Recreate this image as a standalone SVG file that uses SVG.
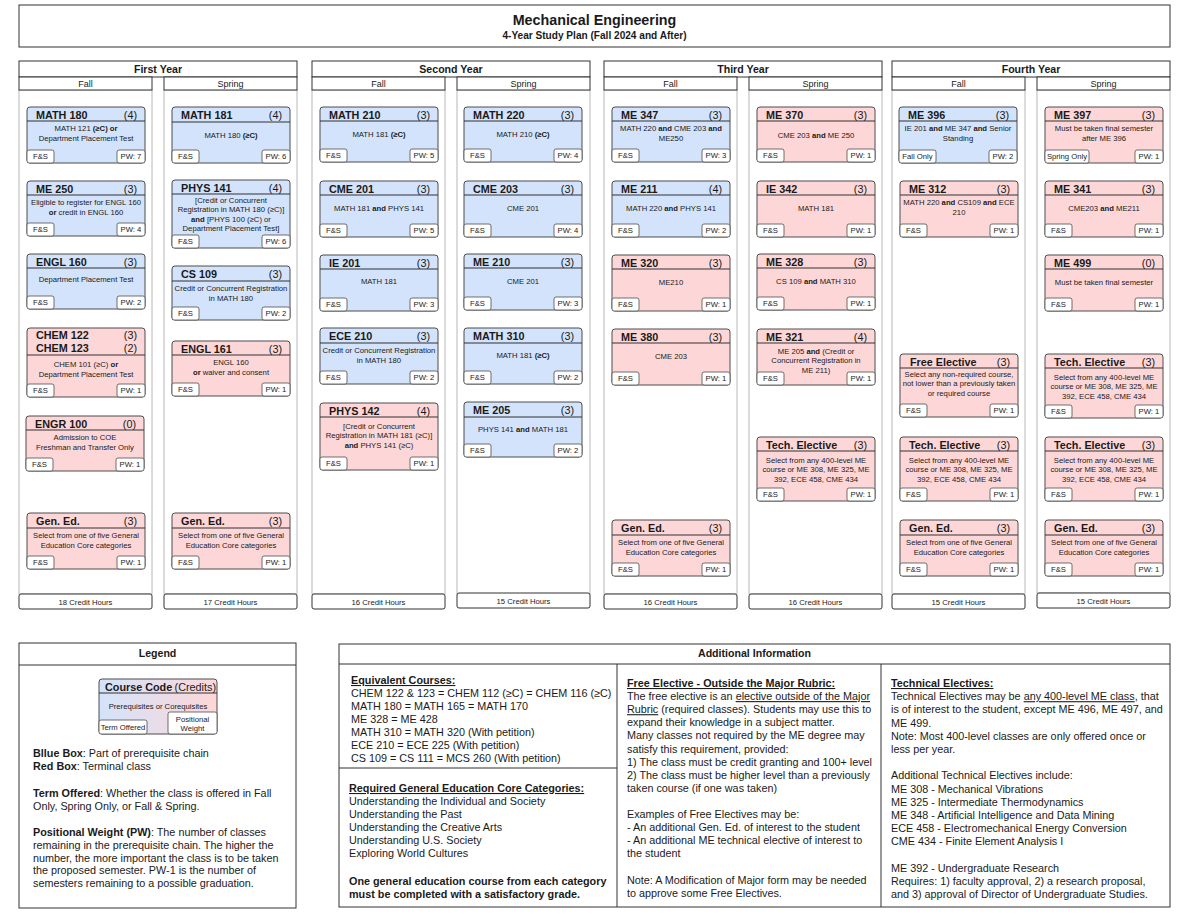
<svg xmlns="http://www.w3.org/2000/svg" width="1200" height="922" viewBox="0 0 1200 922">
<defs>
<style>
text{font-family:"Liberation Sans",Arial,sans-serif;fill:#1a1a1a}
.ct{font-size:10.8px;font-weight:bold}
.cc{font-size:10.8px;text-anchor:end}
.b{font-size:7.7px;text-anchor:middle}
.f{font-size:7.7px;text-anchor:middle}
.bd{font-weight:bold}
.card{stroke:#4d4d4d;stroke-width:1}
.blue{fill:#d3e3fb}
.red{fill:#fdd7d7}
.grad{fill:url(#lgGrad)}
.hl{stroke:#333;stroke-width:1.2}
.fb{fill:#fff;stroke:#4d4d4d;stroke-width:0.8}
.yh{fill:#fff;stroke:#333;stroke-width:1}
.col{fill:none;stroke:#b8b8b8;stroke-width:1}
.yt{font-size:10.6px;font-weight:bold;text-anchor:middle}
.st{font-size:9px;text-anchor:middle}
.ch{font-size:7.7px;text-anchor:middle}
.lg{font-size:10.8px}
.u{text-decoration:underline}
</style>
<linearGradient id="lgGrad" x1="0" y1="0" x2="1" y2="0">
<stop offset="0" stop-color="#d3e3fb"/>
<stop offset="1" stop-color="#fdd7d7"/>
</linearGradient>
</defs>
<rect width="1200" height="922" fill="#fff"/>

<g id="title">
<rect class="yh" x="19" y="5" width="1151" height="42"/>
<text x="594.5" y="25" style="font-size:14.3px;font-weight:bold;text-anchor:middle">Mechanical Engineering</text>
<text x="594.5" y="38.5" style="font-size:10.1px;font-weight:bold;text-anchor:middle">4-Year Study Plan (Fall 2024 and After)</text>
</g>

<!-- Year frames -->
<g id="year1">
<rect class="col" x="19" y="90" width="133" height="504"/>
<rect class="col" x="164" y="90" width="133" height="504"/>
<rect class="yh" x="19" y="61" width="278" height="16"/>
<text class="yt" x="158" y="73">First Year</text>
<rect class="yh" x="19" y="77" width="133" height="13"/>
<text class="st" x="85.5" y="87">Fall</text>
<rect class="yh" x="164" y="77" width="133" height="13"/>
<text class="st" x="230.5" y="87">Spring</text>
<rect class="yh" x="19" y="594" width="133" height="15" rx="2"/>
<text class="ch" x="85.5" y="604.5">18 Credit Hours</text>
<rect class="yh" x="164" y="594" width="133" height="15" rx="2"/>
<text class="ch" x="230.5" y="604.5">17 Credit Hours</text>
</g>
<g id="year2">
<rect class="col" x="312" y="90" width="133" height="504"/>
<rect class="col" x="457" y="90" width="133" height="504"/>
<rect class="yh" x="312" y="61" width="278" height="16"/>
<text class="yt" x="451" y="73">Second Year</text>
<rect class="yh" x="312" y="77" width="133" height="13"/>
<text class="st" x="378.5" y="87">Fall</text>
<rect class="yh" x="457" y="77" width="133" height="13"/>
<text class="st" x="523.5" y="87">Spring</text>
<rect class="yh" x="312" y="594" width="133" height="15" rx="2"/>
<text class="ch" x="378.5" y="604.5">16 Credit Hours</text>
<rect class="yh" x="457" y="593" width="133" height="15" rx="2"/>
<text class="ch" x="523.5" y="603.5">15 Credit Hours</text>
</g>
<g id="year3">
<rect class="col" x="604" y="90" width="133" height="504"/>
<rect class="col" x="749" y="90" width="133" height="504"/>
<rect class="yh" x="604" y="61" width="278" height="16"/>
<text class="yt" x="743" y="73">Third Year</text>
<rect class="yh" x="604" y="77" width="133" height="13"/>
<text class="st" x="670.5" y="87">Fall</text>
<rect class="yh" x="749" y="77" width="133" height="13"/>
<text class="st" x="815.5" y="87">Spring</text>
<rect class="yh" x="604" y="594" width="133" height="15" rx="2"/>
<text class="ch" x="670.5" y="604.5">16 Credit Hours</text>
<rect class="yh" x="749" y="594" width="133" height="15" rx="2"/>
<text class="ch" x="815.5" y="604.5">16 Credit Hours</text>
</g>
<g id="year4">
<rect class="col" x="892" y="90" width="133" height="504"/>
<rect class="col" x="1037" y="90" width="133" height="503"/>
<rect class="yh" x="892" y="61" width="278" height="16"/>
<text class="yt" x="1031" y="73">Fourth Year</text>
<rect class="yh" x="892" y="77" width="133" height="13"/>
<text class="st" x="958.5" y="87">Fall</text>
<rect class="yh" x="1037" y="77" width="133" height="13"/>
<text class="st" x="1103.5" y="87">Spring</text>
<rect class="yh" x="892" y="594" width="133" height="15" rx="2"/>
<text class="ch" x="958.5" y="604.5">15 Credit Hours</text>
<rect class="yh" x="1037" y="593" width="133" height="15" rx="2"/>
<text class="ch" x="1103.5" y="603.5">15 Credit Hours</text>
</g>

<g id="connectors"></g>

<!-- ===== First Year Fall ===== -->
<g id="math180" transform="translate(27,107)">
<rect class="card blue" width="118" height="56" rx="3"/>
<line class="hl" x1="0" y1="14" x2="118" y2="14"/>
<text class="ct" x="9" y="11.5">MATH 180</text><text class="cc" x="110" y="11.5">(4)</text>
<text class="b" x="59" y="24">MATH 121 <tspan class="bd">(≥C) or</tspan></text>
<text class="b" x="59" y="34">Department Placement Test</text>
<rect class="fb" x="0" y="43" width="27" height="13" rx="2"/><text class="f" x="13.5" y="52">F&amp;S</text>
<rect class="fb" x="90" y="43" width="28" height="13" rx="2"/><text class="f" x="104" y="52">PW: 7</text>
</g>
<g id="me250" transform="translate(27,181)">
<rect class="card blue" width="118" height="55" rx="3"/>
<line class="hl" x1="0" y1="14" x2="118" y2="14"/>
<text class="ct" x="9" y="11.5">ME 250</text><text class="cc" x="110" y="11.5">(3)</text>
<text class="b" x="59" y="24">Eligible to register for ENGL 160</text>
<text class="b" x="59" y="33.5"><tspan class="bd">or</tspan> credit in ENGL 160</text>
<rect class="fb" x="0" y="42" width="27" height="13" rx="2"/><text class="f" x="13.5" y="51">F&amp;S</text>
<rect class="fb" x="90" y="42" width="28" height="13" rx="2"/><text class="f" x="104" y="51">PW: 4</text>
</g>
<g id="engl160" transform="translate(27,254)">
<rect class="card blue" width="118" height="55" rx="3"/>
<line class="hl" x1="0" y1="14" x2="118" y2="14"/>
<text class="ct" x="9" y="11.5">ENGL 160</text><text class="cc" x="110" y="11.5">(3)</text>
<text class="b" x="59" y="28">Department Placement Test</text>
<rect class="fb" x="0" y="42" width="27" height="13" rx="2"/><text class="f" x="13.5" y="51">F&amp;S</text>
<rect class="fb" x="90" y="42" width="28" height="13" rx="2"/><text class="f" x="104" y="51">PW: 2</text>
</g>
<g id="chem122" transform="translate(27,328)">
<rect class="card red" width="118" height="69" rx="3"/>
<line class="hl" x1="0" y1="27" x2="118" y2="27"/>
<text class="ct" x="9" y="11">CHEM 122</text><text class="cc" x="110" y="11">(3)</text>
<text class="ct" x="9" y="23.5">CHEM 123</text><text class="cc" x="110" y="23.5">(2)</text>
<text class="b" x="59" y="39">CHEM 101 (≥C) <tspan class="bd">or</tspan></text>
<text class="b" x="59" y="48.5">Department Placement Test</text>
<rect class="fb" x="0" y="56" width="27" height="13" rx="2"/><text class="f" x="13.5" y="65">F&amp;S</text>
<rect class="fb" x="90" y="56" width="28" height="13" rx="2"/><text class="f" x="104" y="65">PW: 1</text>
</g>
<g id="engr100" transform="translate(26,416)">
<rect class="card red" width="118" height="55" rx="3"/>
<line class="hl" x1="0" y1="14" x2="118" y2="14"/>
<text class="ct" x="9" y="11.5">ENGR 100</text><text class="cc" x="110" y="11.5">(0)</text>
<text class="b" x="59" y="24">Admission to COE</text>
<text class="b" x="59" y="33.5">Freshman and Transfer Only</text>
<rect class="fb" x="0" y="42" width="27" height="13" rx="2"/><text class="f" x="13.5" y="51">F&amp;S</text>
<rect class="fb" x="90" y="42" width="28" height="13" rx="2"/><text class="f" x="104" y="51">PW: 1</text>
</g>
<g id="gened1f" transform="translate(27,513)">
<rect class="card red" width="118" height="56" rx="3"/>
<line class="hl" x1="0" y1="15" x2="118" y2="15"/>
<text class="ct" x="9" y="12">Gen. Ed.</text><text class="cc" x="110" y="12">(3)</text>
<text class="b" x="59" y="25">Select from one of five General</text>
<text class="b" x="59" y="34.5">Education Core categories</text>
<rect class="fb" x="0" y="43" width="27" height="13" rx="2"/><text class="f" x="13.5" y="52">F&amp;S</text>
<rect class="fb" x="90" y="43" width="28" height="13" rx="2"/><text class="f" x="104" y="52">PW: 1</text>
</g>

<!-- ===== First Year Spring ===== -->
<g id="math181" transform="translate(172,107)">
<rect class="card blue" width="118" height="56" rx="3"/>
<line class="hl" x1="0" y1="15" x2="118" y2="15"/>
<text class="ct" x="9" y="12">MATH 181</text><text class="cc" x="110" y="12">(4)</text>
<text class="b" x="59" y="31">MATH 180 <tspan class="bd">(≥C)</tspan></text>
<rect class="fb" x="0" y="43" width="27" height="13" rx="2"/><text class="f" x="13.5" y="52">F&amp;S</text>
<rect class="fb" x="90" y="43" width="28" height="13" rx="2"/><text class="f" x="104" y="52">PW: 6</text>
</g>
<g id="phys141" transform="translate(172,180)">
<rect class="card blue" width="118" height="68" rx="3"/>
<line class="hl" x1="0" y1="14" x2="118" y2="14"/>
<text class="ct" x="9" y="11.5">PHYS 141</text><text class="cc" x="110" y="11.5">(4)</text>
<text class="b" x="59" y="23">[Credit or Concurrent</text>
<text class="b" x="59" y="32.3">Registration in MATH 180 (≥C)]</text>
<text class="b" x="59" y="41.6"><tspan class="bd">and</tspan> [PHYS 100 (≥C) or</text>
<text class="b" x="59" y="50.9">Department Placement Test]</text>
<rect class="fb" x="0" y="55" width="27" height="13" rx="2"/><text class="f" x="13.5" y="64">F&amp;S</text>
<rect class="fb" x="90" y="55" width="28" height="13" rx="2"/><text class="f" x="104" y="64">PW: 6</text>
</g>
<g id="cs109" transform="translate(172,266)">
<rect class="card blue" width="118" height="54" rx="3"/>
<line class="hl" x1="0" y1="15" x2="118" y2="15"/>
<text class="ct" x="9" y="12">CS 109</text><text class="cc" x="110" y="12">(3)</text>
<text class="b" x="59" y="25">Credit or Concurrent Registration</text>
<text class="b" x="59" y="34.5">in MATH 180</text>
<rect class="fb" x="0" y="41" width="27" height="13" rx="2"/><text class="f" x="13.5" y="50">F&amp;S</text>
<rect class="fb" x="90" y="41" width="28" height="13" rx="2"/><text class="f" x="104" y="50">PW: 2</text>
</g>
<g id="engl161" transform="translate(172,341)">
<rect class="card red" width="118" height="55" rx="3"/>
<line class="hl" x1="0" y1="14" x2="118" y2="14"/>
<text class="ct" x="9" y="11.5">ENGL 161</text><text class="cc" x="110" y="11.5">(3)</text>
<text class="b" x="59" y="24">ENGL 160</text>
<text class="b" x="59" y="33.5"><tspan class="bd">or</tspan> waiver and consent</text>
<rect class="fb" x="0" y="42" width="27" height="13" rx="2"/><text class="f" x="13.5" y="51">F&amp;S</text>
<rect class="fb" x="90" y="42" width="28" height="13" rx="2"/><text class="f" x="104" y="51">PW: 1</text>
</g>
<g id="gened1s" transform="translate(172,513)">
<rect class="card red" width="118" height="56" rx="3"/>
<line class="hl" x1="0" y1="15" x2="118" y2="15"/>
<text class="ct" x="9" y="12">Gen. Ed.</text><text class="cc" x="110" y="12">(3)</text>
<text class="b" x="59" y="25">Select from one of five General</text>
<text class="b" x="59" y="34.5">Education Core categories</text>
<rect class="fb" x="0" y="43" width="27" height="13" rx="2"/><text class="f" x="13.5" y="52">F&amp;S</text>
<rect class="fb" x="90" y="43" width="28" height="13" rx="2"/><text class="f" x="104" y="52">PW: 1</text>
</g>

<!-- ===== Second Year Fall ===== -->
<g id="math210" transform="translate(320,107)">
<rect class="card blue" width="118" height="55" rx="3"/>
<line class="hl" x1="0" y1="14" x2="118" y2="14"/>
<text class="ct" x="9" y="11.5">MATH 210</text><text class="cc" x="110" y="11.5">(3)</text>
<text class="b" x="59" y="30">MATH 181 <tspan class="bd">(≥C)</tspan></text>
<rect class="fb" x="0" y="42" width="27" height="13" rx="2"/><text class="f" x="13.5" y="51">F&amp;S</text>
<rect class="fb" x="90" y="42" width="28" height="13" rx="2"/><text class="f" x="104" y="51">PW: 5</text>
</g>
<g id="cme201" transform="translate(320,181)">
<rect class="card blue" width="118" height="56" rx="3"/>
<line class="hl" x1="0" y1="14" x2="118" y2="14"/>
<text class="ct" x="9" y="11.5">CME 201</text><text class="cc" x="110" y="11.5">(3)</text>
<text class="b" x="59" y="30">MATH 181 <tspan class="bd">and</tspan> PHYS 141</text>
<rect class="fb" x="0" y="43" width="27" height="13" rx="2"/><text class="f" x="13.5" y="52">F&amp;S</text>
<rect class="fb" x="90" y="43" width="28" height="13" rx="2"/><text class="f" x="104" y="52">PW: 5</text>
</g>
<g id="ie201" transform="translate(320,255)">
<rect class="card blue" width="118" height="56" rx="3"/>
<line class="hl" x1="0" y1="14" x2="118" y2="14"/>
<text class="ct" x="9" y="11.5">IE 201</text><text class="cc" x="110" y="11.5">(3)</text>
<text class="b" x="59" y="29">MATH 181</text>
<rect class="fb" x="0" y="43" width="27" height="13" rx="2"/><text class="f" x="13.5" y="52">F&amp;S</text>
<rect class="fb" x="90" y="43" width="28" height="13" rx="2"/><text class="f" x="104" y="52">PW: 3</text>
</g>
<g id="ece210" transform="translate(320,328)">
<rect class="card blue" width="118" height="56" rx="3"/>
<line class="hl" x1="0" y1="15" x2="118" y2="15"/>
<text class="ct" x="9" y="12">ECE 210</text><text class="cc" x="110" y="12">(3)</text>
<text class="b" x="59" y="25">Credit or Concurrent Registration</text>
<text class="b" x="59" y="34.5">in MATH 180</text>
<rect class="fb" x="0" y="43" width="27" height="13" rx="2"/><text class="f" x="13.5" y="52">F&amp;S</text>
<rect class="fb" x="90" y="43" width="28" height="13" rx="2"/><text class="f" x="104" y="52">PW: 2</text>
</g>
<g id="phys142" transform="translate(320,403)">
<rect class="card red" width="118" height="67" rx="3"/>
<line class="hl" x1="0" y1="14" x2="118" y2="14"/>
<text class="ct" x="9" y="11.5">PHYS 142</text><text class="cc" x="110" y="11.5">(4)</text>
<text class="b" x="59" y="26">[Credit or Concurrent</text>
<text class="b" x="59" y="35.3">Registration in MATH 181 (≥C)]</text>
<text class="b" x="59" y="44.6"><tspan class="bd">and</tspan> PHYS 141 (≥C)</text>
<rect class="fb" x="0" y="54" width="27" height="13" rx="2"/><text class="f" x="13.5" y="63">F&amp;S</text>
<rect class="fb" x="90" y="54" width="28" height="13" rx="2"/><text class="f" x="104" y="63">PW: 1</text>
</g>

<!-- ===== Second Year Spring ===== -->
<g id="math220" transform="translate(464,107)">
<rect class="card blue" width="118" height="55" rx="3"/>
<line class="hl" x1="0" y1="14" x2="118" y2="14"/>
<text class="ct" x="9" y="11.5">MATH 220</text><text class="cc" x="110" y="11.5">(3)</text>
<text class="b" x="59" y="30">MATH 210 <tspan class="bd">(≥C)</tspan></text>
<rect class="fb" x="0" y="42" width="27" height="13" rx="2"/><text class="f" x="13.5" y="51">F&amp;S</text>
<rect class="fb" x="90" y="42" width="28" height="13" rx="2"/><text class="f" x="104" y="51">PW: 4</text>
</g>
<g id="cme203" transform="translate(464,181)">
<rect class="card blue" width="118" height="56" rx="3"/>
<line class="hl" x1="0" y1="14" x2="118" y2="14"/>
<text class="ct" x="9" y="11.5">CME 203</text><text class="cc" x="110" y="11.5">(3)</text>
<text class="b" x="59" y="30">CME 201</text>
<rect class="fb" x="0" y="43" width="27" height="13" rx="2"/><text class="f" x="13.5" y="52">F&amp;S</text>
<rect class="fb" x="90" y="43" width="28" height="13" rx="2"/><text class="f" x="104" y="52">PW: 4</text>
</g>
<g id="me210" transform="translate(464,254)">
<rect class="card blue" width="118" height="56" rx="3"/>
<line class="hl" x1="0" y1="14" x2="118" y2="14"/>
<text class="ct" x="9" y="11.5">ME 210</text><text class="cc" x="110" y="11.5">(3)</text>
<text class="b" x="59" y="29.5">CME 201</text>
<rect class="fb" x="0" y="43" width="27" height="13" rx="2"/><text class="f" x="13.5" y="52">F&amp;S</text>
<rect class="fb" x="90" y="43" width="28" height="13" rx="2"/><text class="f" x="104" y="52">PW: 3</text>
</g>
<g id="math310" transform="translate(464,328)">
<rect class="card blue" width="118" height="56" rx="3"/>
<line class="hl" x1="0" y1="15" x2="118" y2="15"/>
<text class="ct" x="9" y="12">MATH 310</text><text class="cc" x="110" y="12">(3)</text>
<text class="b" x="59" y="29.5">MATH 181 <tspan class="bd">(≥C)</tspan></text>
<rect class="fb" x="0" y="43" width="27" height="13" rx="2"/><text class="f" x="13.5" y="52">F&amp;S</text>
<rect class="fb" x="90" y="43" width="28" height="13" rx="2"/><text class="f" x="104" y="52">PW: 2</text>
</g>
<g id="me205" transform="translate(464,402)">
<rect class="card blue" width="118" height="55" rx="3"/>
<line class="hl" x1="0" y1="15" x2="118" y2="15"/>
<text class="ct" x="9" y="12">ME 205</text><text class="cc" x="110" y="12">(3)</text>
<text class="b" x="59" y="29.5">PHYS 141 <tspan class="bd">and</tspan> MATH 181</text>
<rect class="fb" x="0" y="42" width="27" height="13" rx="2"/><text class="f" x="13.5" y="51">F&amp;S</text>
<rect class="fb" x="90" y="42" width="28" height="13" rx="2"/><text class="f" x="104" y="51">PW: 2</text>
</g>

<!-- ===== Third Year Fall ===== -->
<g id="me347" transform="translate(612,107)">
<rect class="card blue" width="118" height="55" rx="3"/>
<line class="hl" x1="0" y1="14" x2="118" y2="14"/>
<text class="ct" x="9" y="11.5">ME 347</text><text class="cc" x="110" y="11.5">(3)</text>
<text class="b" x="59" y="24">MATH 220 <tspan class="bd">and</tspan> CME 203 <tspan class="bd">and</tspan></text>
<text class="b" x="59" y="33.5">ME250</text>
<rect class="fb" x="0" y="42" width="27" height="13" rx="2"/><text class="f" x="13.5" y="51">F&amp;S</text>
<rect class="fb" x="90" y="42" width="28" height="13" rx="2"/><text class="f" x="104" y="51">PW: 3</text>
</g>
<g id="me211" transform="translate(612,181)">
<rect class="card blue" width="118" height="56" rx="3"/>
<line class="hl" x1="0" y1="14" x2="118" y2="14"/>
<text class="ct" x="9" y="11.5">ME 211</text><text class="cc" x="110" y="11.5">(4)</text>
<text class="b" x="59" y="30">MATH 220 <tspan class="bd">and</tspan> PHYS 141</text>
<rect class="fb" x="0" y="43" width="27" height="13" rx="2"/><text class="f" x="13.5" y="52">F&amp;S</text>
<rect class="fb" x="90" y="43" width="28" height="13" rx="2"/><text class="f" x="104" y="52">PW: 2</text>
</g>
<g id="me320" transform="translate(612,255)">
<rect class="card red" width="118" height="56" rx="3"/>
<line class="hl" x1="0" y1="14" x2="118" y2="14"/>
<text class="ct" x="9" y="11.5">ME 320</text><text class="cc" x="110" y="11.5">(3)</text>
<text class="b" x="59" y="29.5">ME210</text>
<rect class="fb" x="0" y="43" width="27" height="13" rx="2"/><text class="f" x="13.5" y="52">F&amp;S</text>
<rect class="fb" x="90" y="43" width="28" height="13" rx="2"/><text class="f" x="104" y="52">PW: 1</text>
</g>
<g id="me380" transform="translate(612,329)">
<rect class="card red" width="118" height="56" rx="3"/>
<line class="hl" x1="0" y1="14" x2="118" y2="14"/>
<text class="ct" x="9" y="11.5">ME 380</text><text class="cc" x="110" y="11.5">(3)</text>
<text class="b" x="59" y="29.5">CME 203</text>
<rect class="fb" x="0" y="43" width="27" height="13" rx="2"/><text class="f" x="13.5" y="52">F&amp;S</text>
<rect class="fb" x="90" y="43" width="28" height="13" rx="2"/><text class="f" x="104" y="52">PW: 1</text>
</g>
<g id="gened3f" transform="translate(612,520)">
<rect class="card red" width="118" height="56" rx="3"/>
<line class="hl" x1="0" y1="15" x2="118" y2="15"/>
<text class="ct" x="9" y="12">Gen. Ed.</text><text class="cc" x="110" y="12">(3)</text>
<text class="b" x="59" y="25">Select from one of five General</text>
<text class="b" x="59" y="34.5">Education Core categories</text>
<rect class="fb" x="0" y="43" width="27" height="13" rx="2"/><text class="f" x="13.5" y="52">F&amp;S</text>
<rect class="fb" x="90" y="43" width="28" height="13" rx="2"/><text class="f" x="104" y="52">PW: 1</text>
</g>

<!-- ===== Third Year Spring ===== -->
<g id="me370" transform="translate(757,107)">
<rect class="card red" width="118" height="55" rx="3"/>
<line class="hl" x1="0" y1="14" x2="118" y2="14"/>
<text class="ct" x="9" y="11.5">ME 370</text><text class="cc" x="110" y="11.5">(3)</text>
<text class="b" x="59" y="31">CME 203 <tspan class="bd">and</tspan> ME 250</text>
<rect class="fb" x="0" y="42" width="27" height="13" rx="2"/><text class="f" x="13.5" y="51">F&amp;S</text>
<rect class="fb" x="90" y="42" width="28" height="13" rx="2"/><text class="f" x="104" y="51">PW: 1</text>
</g>
<g id="ie342" transform="translate(757,181)">
<rect class="card red" width="118" height="56" rx="3"/>
<line class="hl" x1="0" y1="14" x2="118" y2="14"/>
<text class="ct" x="9" y="11.5">IE 342</text><text class="cc" x="110" y="11.5">(3)</text>
<text class="b" x="59" y="30">MATH 181</text>
<rect class="fb" x="0" y="43" width="27" height="13" rx="2"/><text class="f" x="13.5" y="52">F&amp;S</text>
<rect class="fb" x="90" y="43" width="28" height="13" rx="2"/><text class="f" x="104" y="52">PW: 1</text>
</g>
<g id="me328" transform="translate(757,254)">
<rect class="card red" width="118" height="56" rx="3"/>
<line class="hl" x1="0" y1="14" x2="118" y2="14"/>
<text class="ct" x="9" y="11.5">ME 328</text><text class="cc" x="110" y="11.5">(3)</text>
<text class="b" x="59" y="29.5">CS 109 <tspan class="bd">and</tspan> MATH 310</text>
<rect class="fb" x="0" y="43" width="27" height="13" rx="2"/><text class="f" x="13.5" y="52">F&amp;S</text>
<rect class="fb" x="90" y="43" width="28" height="13" rx="2"/><text class="f" x="104" y="52">PW: 1</text>
</g>
<g id="me321" transform="translate(757,329)">
<rect class="card red" width="118" height="56" rx="3"/>
<line class="hl" x1="0" y1="14" x2="118" y2="14"/>
<text class="ct" x="9" y="11.5">ME 321</text><text class="cc" x="110" y="11.5">(4)</text>
<text class="b" x="59" y="25">ME 205 <tspan class="bd">and</tspan> (Credit or</text>
<text class="b" x="59" y="34.3">Concurrent Registration in</text>
<text class="b" x="59" y="43.6">ME 211)</text>
<rect class="fb" x="0" y="43" width="27" height="13" rx="2"/><text class="f" x="13.5" y="52">F&amp;S</text>
<rect class="fb" x="90" y="43" width="28" height="13" rx="2"/><text class="f" x="104" y="52">PW: 1</text>
</g>
<g id="tech3s" transform="translate(757,437)">
<rect class="card red" width="118" height="64" rx="3"/>
<line class="hl" x1="0" y1="14" x2="118" y2="14"/>
<text class="ct" x="9" y="11.5">Tech. Elective</text><text class="cc" x="110" y="11.5">(3)</text>
<text class="b" x="59" y="26">Select from any 400-level ME</text>
<text class="b" x="59" y="35.3">course or ME 308, ME 325, ME</text>
<text class="b" x="59" y="44.6">392, ECE 458, CME 434</text>
<rect class="fb" x="0" y="51" width="27" height="13" rx="2"/><text class="f" x="13.5" y="60">F&amp;S</text>
<rect class="fb" x="90" y="51" width="28" height="13" rx="2"/><text class="f" x="104" y="60">PW: 1</text>
</g>

<!-- ===== Fourth Year Fall ===== -->
<g id="me396" transform="translate(899,107)">
<rect class="card blue" width="118" height="56" rx="3"/>
<line class="hl" x1="0" y1="14" x2="118" y2="14"/>
<text class="ct" x="9" y="11.5">ME 396</text><text class="cc" x="110" y="11.5">(3)</text>
<text class="b" x="59" y="24">IE 201 <tspan class="bd">and</tspan> ME 347 <tspan class="bd">and</tspan> Senior</text>
<text class="b" x="59" y="33.5">Standing</text>
<rect class="fb" x="0" y="43" width="37" height="13" rx="2"/><text class="f" x="18.5" y="52">Fall Only</text>
<rect class="fb" x="90" y="43" width="28" height="13" rx="2"/><text class="f" x="104" y="52">PW: 2</text>
</g>
<g id="me312" transform="translate(900,181)">
<rect class="card red" width="118" height="56" rx="3"/>
<line class="hl" x1="0" y1="14" x2="118" y2="14"/>
<text class="ct" x="9" y="11.5">ME 312</text><text class="cc" x="110" y="11.5">(3)</text>
<text class="b" x="59" y="24">MATH 220 <tspan class="bd">and</tspan> CS109 <tspan class="bd">and</tspan> ECE</text>
<text class="b" x="59" y="33.5">210</text>
<rect class="fb" x="0" y="43" width="27" height="13" rx="2"/><text class="f" x="13.5" y="52">F&amp;S</text>
<rect class="fb" x="90" y="43" width="28" height="13" rx="2"/><text class="f" x="104" y="52">PW: 1</text>
</g>
<g id="free4f" transform="translate(900,354)">
<rect class="card red" width="118" height="63" rx="3"/>
<line class="hl" x1="0" y1="14" x2="118" y2="14"/>
<text class="ct" x="10" y="11.5">Free Elective</text><text class="cc" x="110" y="11.5">(3)</text>
<text class="b" x="59" y="23">Select any non-required course,</text>
<text class="b" x="59" y="32.3">not lower than a previously taken</text>
<text class="b" x="59" y="41.6">or required course</text>
<rect class="fb" x="0" y="50" width="27" height="13" rx="2"/><text class="f" x="13.5" y="59">F&amp;S</text>
<rect class="fb" x="90" y="50" width="28" height="13" rx="2"/><text class="f" x="104" y="59">PW: 1</text>
</g>
<g id="tech4f" transform="translate(900,437)">
<rect class="card red" width="118" height="64" rx="3"/>
<line class="hl" x1="0" y1="14" x2="118" y2="14"/>
<text class="ct" x="9" y="11.5">Tech. Elective</text><text class="cc" x="110" y="11.5">(3)</text>
<text class="b" x="59" y="26">Select from any 400-level ME</text>
<text class="b" x="59" y="35.3">course or ME 308, ME 325, ME</text>
<text class="b" x="59" y="44.6">392, ECE 458, CME 434</text>
<rect class="fb" x="0" y="51" width="27" height="13" rx="2"/><text class="f" x="13.5" y="60">F&amp;S</text>
<rect class="fb" x="90" y="51" width="28" height="13" rx="2"/><text class="f" x="104" y="60">PW: 1</text>
</g>
<g id="gened4f" transform="translate(900,520)">
<rect class="card red" width="118" height="56" rx="3"/>
<line class="hl" x1="0" y1="15" x2="118" y2="15"/>
<text class="ct" x="9" y="12">Gen. Ed.</text><text class="cc" x="110" y="12">(3)</text>
<text class="b" x="59" y="25">Select from one of five General</text>
<text class="b" x="59" y="34.5">Education Core categories</text>
<rect class="fb" x="0" y="43" width="27" height="13" rx="2"/><text class="f" x="13.5" y="52">F&amp;S</text>
<rect class="fb" x="90" y="43" width="28" height="13" rx="2"/><text class="f" x="104" y="52">PW: 1</text>
</g>

<!-- ===== Fourth Year Spring ===== -->
<g id="me397" transform="translate(1045,107)">
<rect class="card red" width="118" height="56" rx="3"/>
<line class="hl" x1="0" y1="14" x2="118" y2="14"/>
<text class="ct" x="9" y="11.5">ME 397</text><text class="cc" x="110" y="11.5">(3)</text>
<text class="b" x="59" y="24">Must be taken final semester</text>
<text class="b" x="59" y="33.5">after ME 396</text>
<rect class="fb" x="0" y="43" width="44" height="13" rx="2"/><text class="f" x="22" y="52">Spring Only</text>
<rect class="fb" x="90" y="43" width="28" height="13" rx="2"/><text class="f" x="104" y="52">PW: 1</text>
</g>
<g id="me341" transform="translate(1045,181)">
<rect class="card red" width="118" height="56" rx="3"/>
<line class="hl" x1="0" y1="14" x2="118" y2="14"/>
<text class="ct" x="9" y="11.5">ME 341</text><text class="cc" x="110" y="11.5">(3)</text>
<text class="b" x="59" y="30">CME203 <tspan class="bd">and</tspan> ME211</text>
<rect class="fb" x="0" y="43" width="27" height="13" rx="2"/><text class="f" x="13.5" y="52">F&amp;S</text>
<rect class="fb" x="90" y="43" width="28" height="13" rx="2"/><text class="f" x="104" y="52">PW: 1</text>
</g>
<g id="me499" transform="translate(1045,255)">
<rect class="card red" width="118" height="56" rx="3"/>
<line class="hl" x1="0" y1="14" x2="118" y2="14"/>
<text class="ct" x="9" y="11.5">ME 499</text><text class="cc" x="110" y="11.5">(0)</text>
<text class="b" x="59" y="29.5">Must be taken final semester</text>
<rect class="fb" x="0" y="43" width="27" height="13" rx="2"/><text class="f" x="13.5" y="52">F&amp;S</text>
<rect class="fb" x="90" y="43" width="28" height="13" rx="2"/><text class="f" x="104" y="52">PW: 1</text>
</g>
<g id="tech4s1" transform="translate(1045,354)">
<rect class="card red" width="118" height="64" rx="3"/>
<line class="hl" x1="0" y1="14" x2="118" y2="14"/>
<text class="ct" x="9" y="11.5">Tech. Elective</text><text class="cc" x="110" y="11.5">(3)</text>
<text class="b" x="59" y="26">Select from any 400-level ME</text>
<text class="b" x="59" y="35.3">course or ME 308, ME 325, ME</text>
<text class="b" x="59" y="44.6">392, ECE 458, CME 434</text>
<rect class="fb" x="0" y="51" width="27" height="13" rx="2"/><text class="f" x="13.5" y="60">F&amp;S</text>
<rect class="fb" x="90" y="51" width="28" height="13" rx="2"/><text class="f" x="104" y="60">PW: 1</text>
</g>
<g id="tech4s2" transform="translate(1045,437)">
<rect class="card red" width="118" height="64" rx="3"/>
<line class="hl" x1="0" y1="14" x2="118" y2="14"/>
<text class="ct" x="9" y="11.5">Tech. Elective</text><text class="cc" x="110" y="11.5">(3)</text>
<text class="b" x="59" y="26">Select from any 400-level ME</text>
<text class="b" x="59" y="35.3">course or ME 308, ME 325, ME</text>
<text class="b" x="59" y="44.6">392, ECE 458, CME 434</text>
<rect class="fb" x="0" y="51" width="27" height="13" rx="2"/><text class="f" x="13.5" y="60">F&amp;S</text>
<rect class="fb" x="90" y="51" width="28" height="13" rx="2"/><text class="f" x="104" y="60">PW: 1</text>
</g>
<g id="gened4s" transform="translate(1045,520)">
<rect class="card red" width="118" height="56" rx="3"/>
<line class="hl" x1="0" y1="15" x2="118" y2="15"/>
<text class="ct" x="9" y="12">Gen. Ed.</text><text class="cc" x="110" y="12">(3)</text>
<text class="b" x="59" y="25">Select from one of five General</text>
<text class="b" x="59" y="34.5">Education Core categories</text>
<rect class="fb" x="0" y="43" width="27" height="13" rx="2"/><text class="f" x="13.5" y="52">F&amp;S</text>
<rect class="fb" x="90" y="43" width="28" height="13" rx="2"/><text class="f" x="104" y="52">PW: 1</text>
</g>

<!-- ===== Legend ===== -->
<g id="legend">
<rect class="yh" x="19" y="643" width="277" height="265"/>
<line class="hl" x1="19" y1="665" x2="296" y2="665" style="stroke-width:1"/>
<text x="157.5" y="657" style="font-size:10.6px;font-weight:bold;text-anchor:middle">Legend</text>
<g id="legend-card" transform="translate(99,679)">
<rect class="card grad" width="118" height="55" rx="3"/>
<line class="hl" x1="0" y1="14" x2="118" y2="14"/>
<text class="ct" x="6" y="11.5">Course Code</text><text x="117" y="11.5" style="font-size:10.8px;text-anchor:end">(Credits)</text>
<text class="b" x="59" y="30">Prerequisites or Corequisites</text>
<rect class="fb" x="0" y="41" width="48" height="14" rx="2"/><text class="f" x="24" y="50.5">Term Offered</text>
<rect class="fb" x="69" y="33" width="49" height="22" rx="2"/><text class="f" x="93.5" y="42.5">Positional</text><text class="f" x="93.5" y="51.5">Weight</text>
</g>
<text class="lg" x="33" y="757"><tspan class="bd">Bllue Box</tspan>: Part of prerequisite chain</text>
<text class="lg" x="33" y="770"><tspan class="bd">Red Box</tspan>: Terminal class</text>
<text class="lg" x="33" y="797"><tspan class="bd">Term Offered</tspan>: Whether the class is offered in Fall</text>
<text class="lg" x="33" y="810">Only, Spring Only, or Fall &amp; Spring.</text>
<text class="lg" x="33" y="836"><tspan class="bd">Positional Weight (PW)</tspan>: The number of classes</text>
<text class="lg" x="33" y="848.8">remaining in the prerequisite chain. The higher the</text>
<text class="lg" x="33" y="861.6">number, the more important the class is to be taken</text>
<text class="lg" x="33" y="874.4">the proposed semester. PW-1 is the number of</text>
<text class="lg" x="33" y="887.2">semesters remaining to a possible graduation.</text>
</g>

<!-- ===== Additional Information ===== -->
<g id="additional-info">
<rect class="yh" x="339" y="644" width="831" height="263"/>
<line class="hl" x1="339" y1="664" x2="1170" y2="664" style="stroke-width:1"/>
<line class="hl" x1="617" y1="664" x2="617" y2="907" style="stroke-width:1"/>
<line class="hl" x1="881" y1="664" x2="881" y2="907" style="stroke-width:1"/>
<line class="hl" x1="339" y1="768" x2="617" y2="768" style="stroke-width:1"/>
<text x="754.5" y="657" style="font-size:10.6px;font-weight:bold;text-anchor:middle">Additional Information</text>

<text class="lg" x="351" y="684"><tspan class="bd u">Equivalent Courses:</tspan></text>
<text class="lg" x="351" y="697">CHEM 122 &amp; 123 = CHEM 112 (≥C) = CHEM 116 (≥C)</text>
<text class="lg" x="351" y="710">MATH 180 = MATH 165 = MATH 170</text>
<text class="lg" x="351" y="723">ME 328 = ME 428</text>
<text class="lg" x="351" y="736">MATH 310 = MATH 320 (With petition)</text>
<text class="lg" x="351" y="749">ECE 210 = ECE 225 (With petition)</text>
<text class="lg" x="351" y="762">CS 109 = CS 111 = MCS 260 (With petition)</text>

<text class="lg" x="349" y="792"><tspan class="bd u">Required General Education Core Categories:</tspan></text>
<text class="lg" x="349" y="805">Understanding the Individual and Society</text>
<text class="lg" x="349" y="818">Understanding the Past</text>
<text class="lg" x="349" y="831">Understanding the Creative Arts</text>
<text class="lg" x="349" y="844">Understanding U.S. Society</text>
<text class="lg" x="349" y="857">Exploring World Cultures</text>
<text class="lg bd" x="349" y="885">One general education course from each category</text>
<text class="lg bd" x="349" y="898">must be completed with a satisfactory grade.</text>

<text class="lg" x="627" y="687"><tspan class="bd u">Free Elective - Outside the Major Rubric:</tspan></text>
<text class="lg" x="627" y="700.1">The free elective is an <tspan class="u">elective outside of the Major</tspan></text>
<text class="lg" x="627" y="713.2"><tspan class="u">Rubric</tspan> (required classes). Students may use this to</text>
<text class="lg" x="627" y="726.3">expand their knowledge in a subject matter.</text>
<text class="lg" x="627" y="739.4">Many classes not required by the ME degree may</text>
<text class="lg" x="627" y="752.5">satisfy this requirement, provided:</text>
<text class="lg" x="627" y="765.6">1) The class must be credit granting and 100+ level</text>
<text class="lg" x="627" y="778.7">2) The class must be higher level than a previously</text>
<text class="lg" x="627" y="791.8">taken course (if one was taken)</text>
<text class="lg" x="627" y="818">Examples of Free Electives may be:</text>
<text class="lg" x="627" y="831.1">- An additional Gen. Ed. of interest to the student</text>
<text class="lg" x="627" y="844.2">- An additional ME technical elective of interest to</text>
<text class="lg" x="627" y="857.3">the student</text>
<text class="lg" x="627" y="883.5">Note: A Modification of Major form may be needed</text>
<text class="lg" x="627" y="896.6">to approve some Free Electives.</text>

<text class="lg" x="891" y="687"><tspan class="bd u">Technical Electives:</tspan></text>
<text class="lg" x="891" y="700.2">Technical Electives may be <tspan class="u">any 400-level ME class</tspan>, that</text>
<text class="lg" x="891" y="713.4">is of interest to the student, except ME 496, ME 497, and</text>
<text class="lg" x="891" y="726.6">ME 499.</text>
<text class="lg" x="891" y="739.8">Note: Most 400-level classes are only offered once or</text>
<text class="lg" x="891" y="753">less per year.</text>
<text class="lg" x="891" y="779.4">Additional Technical Electives include:</text>
<text class="lg" x="891" y="792.6">ME 308 - Mechanical Vibrations</text>
<text class="lg" x="891" y="805.8">ME 325 - Intermediate Thermodynamics</text>
<text class="lg" x="891" y="819">ME 348 - Artificial Intelligence and Data Mining</text>
<text class="lg" x="891" y="832.2">ECE 458 - Electromechanical Energy Conversion</text>
<text class="lg" x="891" y="845.4">CME 434 - Finite Element Analysis I</text>
<text class="lg" x="891" y="871.8">ME 392 - Undergraduate Research</text>
<text class="lg" x="891" y="885">Requires: 1) faculty approval, 2) a research proposal,</text>
<text class="lg" x="891" y="898.2">and 3) approval of Director of Undergraduate Studies.</text>
</g>
</svg>
